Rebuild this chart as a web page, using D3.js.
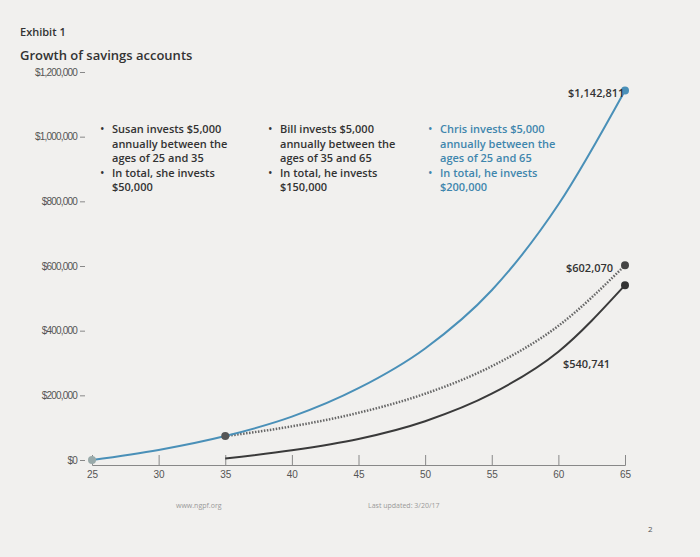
<!DOCTYPE html><html><head><meta charset="utf-8">
<script src="https://cdn.jsdelivr.net/npm/d3@7"></script>
<style>body{margin:0;background:#ecebe9}svg{font-family:"Open Sans",sans-serif}</style></head><body>
<svg id="c" width="700" height="557"></svg>
<script>
const ages=[25,30,35,40,45,50,55,60,65];
const chris=[0,31000,74000,134000,222000,345000,525000,790000,1142811];
const susanAges=[35,40,45,50,55,60,65];
const susan=[74000,104000,146000,205000,290000,415000,602070];
const bill=[5000,30000,65000,120000,205000,335000,540741];
const yTicks=[0,200000,400000,600000,800000,1000000,1200000];
const yLabels=["$0","$200,000","$400,000","$600,000","$800,000","$1,000,000","$1,200,000"];
const notes=[
 {x:100,lines:["Susan invests $5,000","annually between the","ages of 25 and 35","In total, she invests","$50,000"],b:[0,3]},
 {x:268,lines:["Bill invests $5,000","annually between the","ages of 35 and 65","In total, he invests","$150,000"],b:[0,3]},
 {x:428,lines:["Chris invests $5,000","annually between the","ages of 25 and 65","In total, he invests","$200,000"],b:[0,3]}];
const svg=d3.select("#c");
svg.append("rect").attr("width",700).attr("height",557).attr("fill","#f1f0ee");
const x=d3.scaleLinear().domain([25,65]).range([92,625]);
const y=d3.scaleLinear().domain([0,1200000]).range([460,72]);
svg.append("text").attr("x",20).attr("y",36).attr("font-size",11).attr("font-weight",600).attr("fill","#333").text("Exhibit 1");
svg.append("text").attr("x",20).attr("y",60).attr("font-size",13).attr("font-weight",600).attr("fill","#333").text("Growth of savings accounts");
const ya=svg.append("g").attr("transform","translate(85,0)").call(d3.axisLeft(y).tickValues(yTicks).tickFormat((d,i)=>yLabels[i]).tickSize(5));
ya.selectAll("text").attr("font-size",10).attr("fill","#555").attr("letter-spacing",-0.8);
ya.select(".domain").remove();
ya.selectAll("line").attr("stroke","#888");
const xa=svg.append("g").attr("transform","translate(0,465)").call(d3.axisBottom(x).tickValues(ages).tickSize(-10).tickPadding(6));
xa.selectAll("text").attr("font-size",10).attr("fill","#555");
xa.selectAll("line").attr("stroke","#888");
xa.select(".domain").attr("stroke","#888");
const line=d3.line().curve(d3.curveMonotoneX);
svg.append("path").attr("d",line(susanAges.map((a,i)=>[x(a),y(susan[i])]))).attr("fill","none").attr("stroke","#666").attr("stroke-width",2.5).attr("stroke-dasharray","1.5,1.5");
svg.append("path").attr("d",line(susanAges.map((a,i)=>[x(a),y(bill[i])]))).attr("fill","none").attr("stroke","#3a3a3a").attr("stroke-width",2);
svg.append("path").attr("d",line(ages.map((a,i)=>[x(a),y(chris[i])]))).attr("fill","none").attr("stroke","#4a90b8").attr("stroke-width",2);
[[25,0,"#9aa"],[35,74000,"#555"],[65,1142811,"#4a90b8"],[65,602070,"#444"],[65,540741,"#333"]].forEach(d=>
 svg.append("circle").attr("cx",x(d[0])).attr("cy",y(d[1])).attr("r",4).attr("fill",d[2]));
[["$1,142,811",568,97],["$602,070",566,272],["$540,741",563,368]].forEach(d=>
 svg.append("text").attr("x",d[1]).attr("y",d[2]).attr("font-size",11).attr("font-weight",600).attr("fill","#333").text(d[0]));
notes.forEach((n,k)=>{n.lines.forEach((l,i)=>{
 const yy=133+i*14.5;
 svg.append("text").attr("x",n.x+12).attr("y",yy).attr("font-size",11).attr("font-weight",600)
  .attr("fill",k==2?"#3f86ad":"#333").text(l);
 if(n.b.includes(i))svg.append("text").attr("x",n.x).attr("y",yy).attr("font-size",12).attr("fill",k==2?"#3f86ad":"#333").text("•");
});});
svg.append("text").attr("x",176).attr("y",508).attr("font-size",7).attr("fill","#999").text("www.ngpf.org");
svg.append("text").attr("x",368).attr("y",508).attr("font-size",7).attr("fill","#999").text("Last updated: 3/20/17");
svg.append("text").attr("x",648).attr("y",532).attr("font-size",8).attr("fill","#555").text("2");
</script></body></html>
